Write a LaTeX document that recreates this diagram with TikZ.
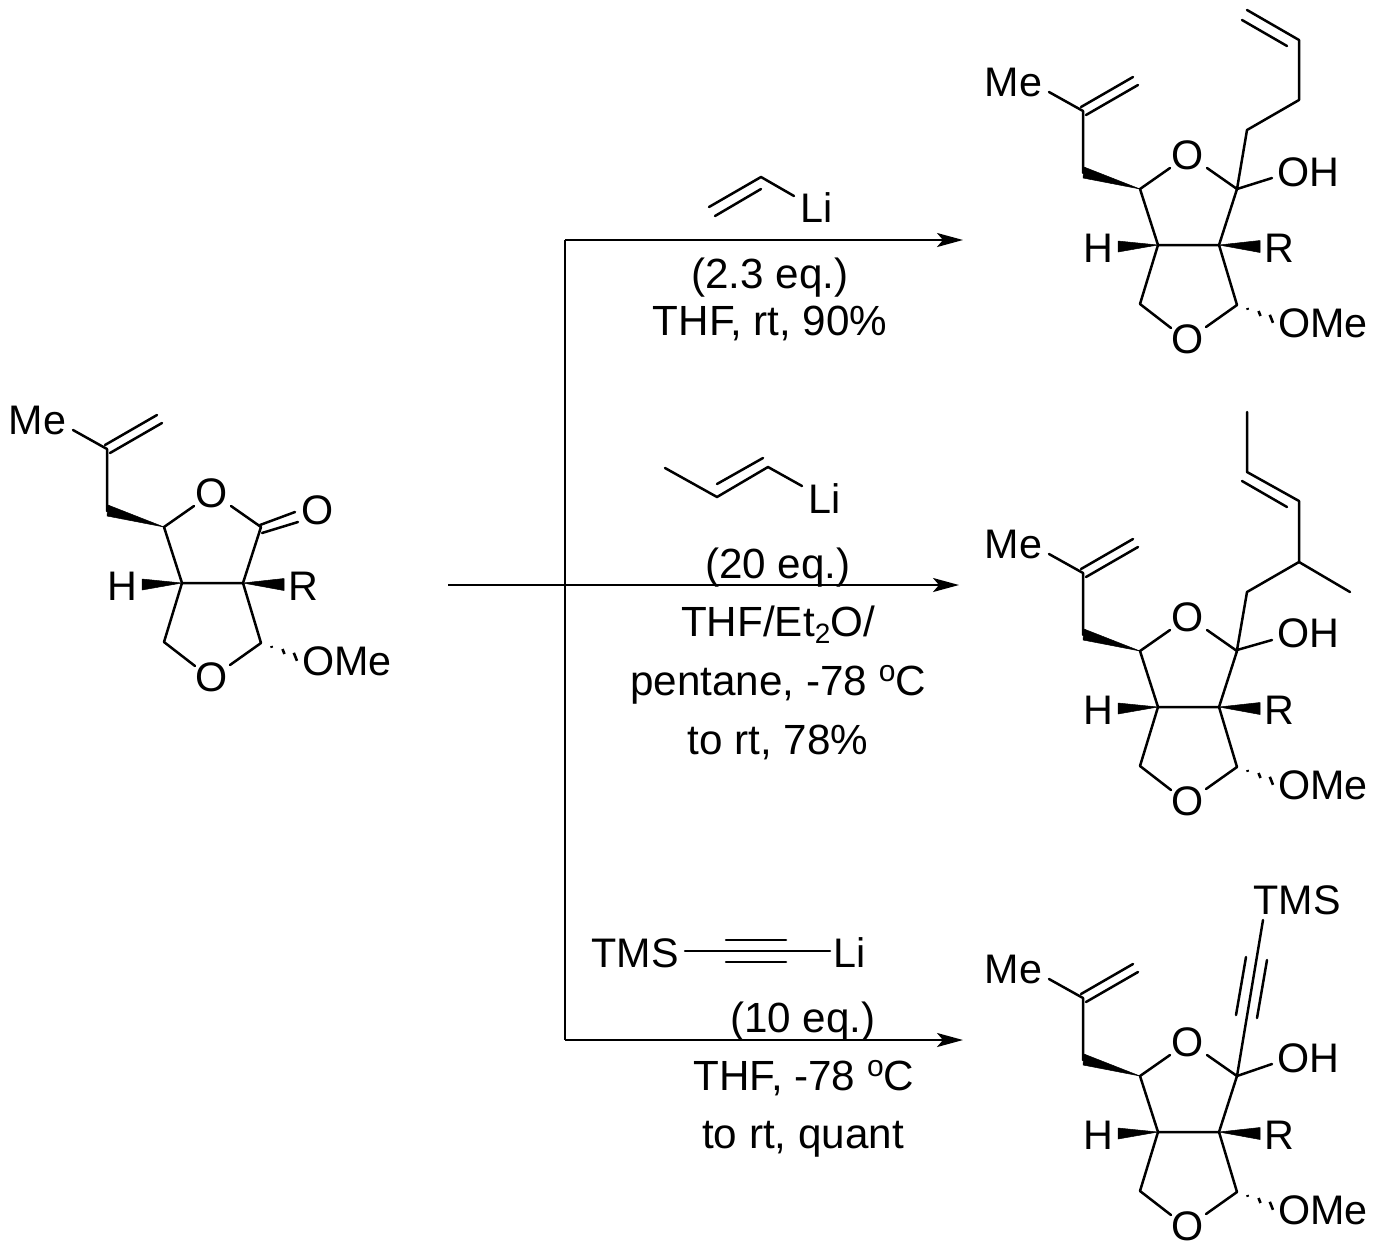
\documentclass[tikz,border=0pt]{standalone}
\usepackage{fontspec}
\setmainfont{Liberation Sans}
\usetikzlibrary{arrows.meta}
\newcommand\supo{\raisebox{14pt}{\fontsize{30}{30}\selectfont o}}
\newcommand\subtwo{\raisebox{-7pt}{\fontsize{28}{28}\selectfont 2}}
\tikzset{
  bond/.style={line width=2.5pt,line cap=round,line join=round},
  wedgebond/.style={fill=black,draw=black,line width=0.5pt,line join=round},
  atom/.style={inner sep=0pt,outer sep=0pt,anchor=base,font=\fontsize{41.3}{41.3}\selectfont},
  txt/.style={inner sep=0pt,outer sep=0pt,anchor=base,align=center,font=\fontsize{42.2}{42.2}\selectfont},
  rxn/.style={line width=2.3pt},
  rxnhead/.style={rxn,-{Stealth[length=26pt,width=14pt,inset=6pt]}}
}
% common skeleton; #1 prefix, #2 dx, #3 dy
\newcommand\skeleton[3]{%
\begin{scope}[shift={(#2,#3)},name prefix=#1-]
  \node[atom] (me) at (37.5,434) {Me};
  \node[atom] (o1) at (212,507) {O};
  \node[atom] (o2) at (212,691.5) {O};
  \node[atom] (h) at (122,600) {H};
  \node[atom] (r) at (303,600) {R};
  \node[atom] (ome) at (347,675) {OMe};
  \coordinate (c1) at (107,449);
  \coordinate (c2) at (107,511);
  \coordinate (c3) at (164,527);
  \coordinate (c4) at (182,583);
  \coordinate (c5) at (243,583);
  \coordinate (c6) at (261,527);
  \coordinate (c7) at (164,642);
  \coordinate (c8) at (261,643);
  \coordinate (meb) at (73,430);
  \coordinate (o1l) at (194,506);
  \coordinate (o1r) at (231,506);
  \coordinate (o2l) at (195,666);
  \coordinate (o2r) at (230,665);
  \coordinate (d1a) at (105,445);
  \coordinate (d1b) at (157,415);
  \coordinate (d2a) at (110,453);
  \coordinate (d2b) at (162,423);
  \draw[bond] (meb) -- (c1) -- (c2);
  \draw[bond] (d1a) -- (d1b);
  \draw[bond] (d2a) -- (d2b);
  \draw[bond] (o1l) -- (c3) -- (c4) -- (c5) -- (c6) -- (o1r);
  \draw[bond] (c4) -- (c7) -- (o2l);
  \draw[bond] (c5) -- (c8) -- (o2r);
  \fill[wedgebond] (c3) -- (108,505) -- (107,516) -- cycle;
  \fill[wedgebond] (c4) -- (142,579) -- (142,590) -- cycle;
  \fill[wedgebond] (c5) -- (284,578.5) -- (284,590.5) -- cycle;
  \draw[line width=2.6pt] (271.3,646) -- (271.9,647.8);
  \draw[line width=2.6pt] (282.5,649) -- (284.5,654);
  \draw[line width=2.6pt] (293.8,652.8) -- (297,660.8);
\end{scope}}
\begin{document}
\begin{tikzpicture}[x=1pt,y=-1pt]
\useasboundingbox (0,0) rectangle (1378,1251);
\fill[white] (0,0) rectangle (1378,1251);

% reaction scheme lines
\coordinate (start) at (448,585);
\coordinate (endB) at (959,585);
\coordinate (top) at (565,240);
\coordinate (endA) at (963,240);
\coordinate (bot) at (565,1040);
\coordinate (endC) at (963,1040);
\draw[rxn] (top) -- (bot);
\draw[rxnhead] (top) -- (endA);
\draw[rxnhead] (start) -- (endB);
\draw[rxnhead] (bot) -- (endC);

% starting lactone
\skeleton{a}{0}{0}
\node[atom] (a-oc) at (318,524.5) {O};
\coordinate (a-k1) at (260,525);
\coordinate (a-k2) at (295,512);
\coordinate (a-k3) at (262,533);
\coordinate (a-k4) at (298,522);
\draw[bond] (a-k1) -- (a-k2);
\draw[bond] (a-k3) -- (a-k4);

% product 1
\skeleton{p}{976}{-338}
\node[atom] (p-oh) at (1308,186) {OH};
\coordinate (p-q) at (1237,189);
\coordinate (p-ohb) at (1272,178);
\coordinate (p-s1) at (1247,130);
\coordinate (p-s2) at (1299,100);
\coordinate (p-s3) at (1299,40);
\coordinate (p-s4) at (1247,10);
\coordinate (p-i1) at (1287,46);
\coordinate (p-i2) at (1242,20);
\draw[bond] (p-ohb) -- (p-q) -- (p-s1) -- (p-s2) -- (p-s3) -- (p-s4);
\draw[bond] (p-i1) -- (p-i2);

% product 2
\skeleton{q}{976}{124}
\node[atom] (q-oh) at (1308,647) {OH};
\coordinate (q-q) at (1237,650);
\coordinate (q-ohb) at (1272,640);
\coordinate (q-s1) at (1247,592);
\coordinate (q-s2) at (1299,562);
\coordinate (q-m) at (1350,592);
\coordinate (q-s3) at (1299,501);
\coordinate (q-s4) at (1247,472);
\coordinate (q-s5) at (1247,412);
\coordinate (q-i1) at (1287,507);
\coordinate (q-i2) at (1242,481);
\draw[bond] (q-ohb) -- (q-q) -- (q-s1) -- (q-s2) -- (q-s3) -- (q-s4) -- (q-s5);
\draw[bond] (q-s2) -- (q-m);
\draw[bond] (q-i1) -- (q-i2);

% product 3
\skeleton{t}{976}{549}
\node[atom] (t-oh) at (1308,1072) {OH};
\node[atom] (t-tms) at (1297,914) {TMS};
\coordinate (t-q) at (1237,1076);
\coordinate (t-ohb) at (1272,1064);
\coordinate (t-e) at (1263,920);
\coordinate (t-i1) at (1236,1015);
\coordinate (t-i2) at (1246,957);
\coordinate (t-i3) at (1257,1018);
\coordinate (t-i4) at (1267,960);
\draw[bond] (t-ohb) -- (t-q) -- (t-e);
\draw[bond] (t-i1) -- (t-i2);
\draw[bond] (t-i3) -- (t-i4);

% reagent 1
\node[atom] (li1) at (817,222) {Li};
\coordinate (v1) at (709,207);
\coordinate (v2) at (761,177);
\coordinate (v3) at (794,196);
\coordinate (v4) at (715,216);
\coordinate (v5) at (761,189);
\draw[bond] (v1) -- (v2) -- (v3);
\draw[bond] (v4) -- (v5);
\node[txt] (eq1) at (770,288) {(2.3 eq.)};
\node[txt] (cond1) at (770,335) {THF, rt, 90\%};

% reagent 2
\node[atom] (li2) at (825,513) {Li};
\coordinate (w0) at (665,468);
\coordinate (w1) at (717,497);
\coordinate (w2) at (768,467);
\coordinate (w3) at (802,486);
\coordinate (w4) at (717,484);
\coordinate (w5) at (763,458);
\draw[bond] (w0) -- (w1) -- (w2) -- (w3);
\draw[bond] (w4) -- (w5);
\node[txt] (eq2) at (778,578) {(20 eq.)};
\node[txt] (cond2a) at (778,636) {THF/Et\subtwo O/};
\node[txt] (cond2b) at (778,695) {pentane, -78 \supo C};
\node[txt] (cond2c) at (778,754) {to rt, 78\%};

% reagent 3
\node[atom] (tms3) at (635,967) {TMS};
\node[atom] (li3) at (850,967) {Li};
\coordinate (y1) at (685,951);
\coordinate (y2) at (830,951);
\coordinate (y3) at (726,940);
\coordinate (y4) at (786,940);
\coordinate (y5) at (726,962);
\coordinate (y6) at (786,962);
\draw[bond] (y1) -- (y2);
\draw[bond] (y3) -- (y4);
\draw[bond] (y5) -- (y6);
\node[txt] (eq3) at (803,1032) {(10 eq.)};
\node[txt] (cond3a) at (804,1090) {THF, -78 \supo C};
\node[txt] (cond3b) at (803,1148.5) {to rt, quant};
\end{tikzpicture}
\end{document}
